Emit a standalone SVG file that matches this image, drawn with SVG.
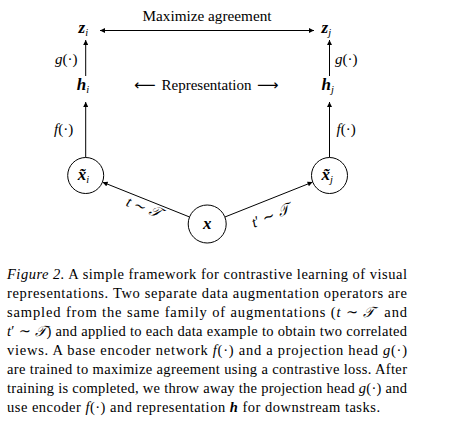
<svg xmlns="http://www.w3.org/2000/svg" width="455" height="424" viewBox="0 0 455 424">
<style>
text{font-family:"Liberation Serif","DejaVu Serif",serif;fill:#000}
.d{font-size:15px}
.m{font-weight:bold;font-style:italic}
.d .m{font-size:17px}
.it{font-style:italic}
.sub{font-size:10.5px;font-style:italic;font-weight:normal}
.cap{font-size:14.5px}
.conn line{stroke:#000;stroke-width:1}
.node circle{fill:#fff;stroke:#000;stroke-width:1}
</style>
<defs>
<marker id="ah" viewBox="0 0 10 10" refX="10" refY="5" markerWidth="6" markerHeight="5" markerUnits="userSpaceOnUse" orient="auto-start-reverse">
<path d="M0,0 L10,5 L0,10 z" fill="#000"/>
</marker>
</defs>
<g id="connectors" class="conn">
<line x1="100" y1="30.5" x2="314" y2="30.5" marker-start="url(#ah)" marker-end="url(#ah)"/>
<line x1="85.7" y1="76" x2="85.7" y2="40" marker-end="url(#ah)"/>
<line x1="329.5" y1="76" x2="329.5" y2="40" marker-end="url(#ah)"/>
<line x1="85.7" y1="157.5" x2="85.7" y2="102" marker-end="url(#ah)"/>
<line x1="329.5" y1="157.5" x2="329.5" y2="102" marker-end="url(#ah)"/>
<line x1="189.6" y1="217" x2="102.6" y2="182.2" marker-end="url(#ah)"/>
<line x1="224.9" y1="217" x2="312.6" y2="182.1" marker-end="url(#ah)"/>
</g>
<g id="edge-labels" class="d">
<text x="142.5" y="21" textLength="129" lengthAdjust="spacingAndGlyphs">Maximize agreement</text>
<text x="55" y="64"><tspan class="it">g</tspan>(·)</text>
<text x="335" y="64"><tspan class="it">g</tspan>(·)</text>
<text x="54" y="133.5"><tspan class="it">f</tspan>(·)</text>
<text x="336.5" y="133.5"><tspan class="it">f</tspan>(·)</text>
<text x="134" y="90"><tspan font-family="DejaVu Sans">⟵</tspan><tspan x="161.5">Representation</tspan><tspan x="257" font-family="DejaVu Sans">⟶</tspan></text>
<text transform="translate(141.5,212) rotate(21.8)" text-anchor="middle"><tspan class="it">t</tspan> ∼ <tspan class="it">𝒯</tspan></text>
<text transform="translate(272,220.5) rotate(-21.8)" text-anchor="middle"><tspan class="it">t</tspan>′ ∼ <tspan class="it">𝒯</tspan></text>
</g>
<g id="node-zi" class="d"><text x="78.5" y="33"><tspan class="m">z</tspan><tspan class="sub" dy="2.5">i</tspan></text></g>
<g id="node-zj" class="d"><text x="321.5" y="33"><tspan class="m">z</tspan><tspan class="sub" dy="2.5">j</tspan></text></g>
<g id="node-hi" class="d"><text x="76.7" y="90"><tspan class="m">h</tspan><tspan class="sub" dy="2.5">i</tspan></text></g>
<g id="node-hj" class="d"><text x="321.5" y="90"><tspan class="m">h</tspan><tspan class="sub" dy="2.5">j</tspan></text></g>
<g id="node-xi" class="node d"><circle cx="85.7" cy="175.5" r="18"/><text x="77.8" y="180"><tspan class="m">x&#x303;</tspan><tspan class="sub" dy="2.5">i</tspan></text></g>
<g id="node-xj" class="node d"><circle cx="329.5" cy="175.5" r="18"/><text x="321.6" y="180"><tspan class="m">x&#x303;</tspan><tspan class="sub" dy="2.5">j</tspan></text></g>
<g id="node-x" class="node d"><circle cx="207.2" cy="224" r="19"/><text x="207.2" y="228.5" text-anchor="middle" class="m">x</text></g>
<g id="caption" class="cap">
<text x="7" y="278.7" textLength="400" lengthAdjust="spacing"><tspan class="it">Figure 2.</tspan> A simple framework for contrastive learning of visual</text>
<text x="7" y="297.7" textLength="400" lengthAdjust="spacing">representations.  Two separate data augmentation operators are</text>
<text x="7" y="316.7" textLength="400" lengthAdjust="spacing">sampled from the same family of augmentations (<tspan class="it">t</tspan> ∼ <tspan class="it">𝒯</tspan>&#160; and</text>
<text x="7" y="335.7" textLength="400" lengthAdjust="spacing"><tspan class="it">t</tspan>′ ∼ <tspan class="it">𝒯</tspan>) and applied to each data example to obtain two correlated</text>
<text x="7" y="354.7" textLength="400" lengthAdjust="spacing">views.  A base encoder network <tspan class="it">f</tspan>(·) and a projection head <tspan class="it">g</tspan>(·)</text>
<text x="7" y="373.7" textLength="400" lengthAdjust="spacing">are trained to maximize agreement using a contrastive loss. After</text>
<text x="7" y="392.7" textLength="400" lengthAdjust="spacing">training is completed, we throw away the projection head <tspan class="it">g</tspan>(·) and</text>
<text x="7" y="411.7" textLength="373" lengthAdjust="spacing">use encoder <tspan class="it">f</tspan>(·) and representation <tspan class="m">h</tspan> for downstream tasks.</text>
</g>
</svg>
